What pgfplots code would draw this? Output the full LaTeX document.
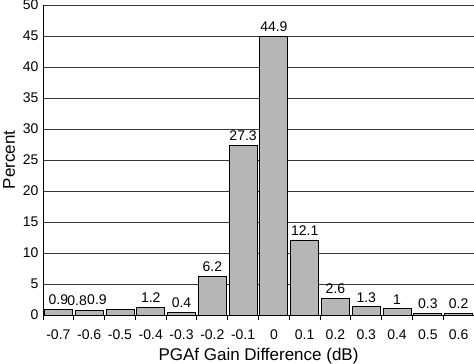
\documentclass[border=0pt]{standalone}
\usepackage{fontspec}
\setmainfont{Liberation Sans}
\usepackage{pgfplots}
\usepackage{pgfplotstable}
\pgfplotsset{compat=1.18}
\definecolor{barfill}{RGB}{182,182,182}
\definecolor{gridc}{RGB}{55,55,55}
\newcommand{\fs}{\fontsize{14bp}{17bp}\selectfont}
\newcommand{\fl}{\fontsize{17bp}{20bp}\selectfont}
\newcommand{\fn}{\fontsize{14bp}{16bp}\selectfont}
\pgfplotstableread{
x  y     dx
0  0.9   0
1  0.8   -12
2  0.9   -23
3  1.2   0
4  0.4   0
5  6.2   0
6  27.3  0
7  44.9  0
8  12.1  0
9  2.6   0
10 1.3   0
11 1     0
12 0.3   0
13 0.2   0
}\datatable
\begin{document}%
\begin{tikzpicture}
\useasboundingbox (-43bp,-49bp) rectangle (431bp,315bp);
\begin{axis}[
  at={(0,0)}, anchor=south west,
  scale only axis,
  width=431bp, height=310bp,
  xmin=-0.5, xmax=13.5, ymin=0, ymax=50,
  axis x line*=bottom, axis y line*=left,
  axis line style={black, line width=0.9pt},
  ytick={0,5,...,50},
  ymajorgrids, grid style={gridc, line width=0.9pt},
  major tick length=0pt,
  xtick={0,...,13},
  xticklabels={-0.7,-0.6,-0.5,-0.4,-0.3,-0.2,-0.1,0,0.1,0.2,0.3,0.4,0.5,0.6},
  minor xtick={-0.5,0.5,...,13.5},
  minor tick length=5bp,
  minor tick style={black, line width=0.9pt},
  tick align=outside,
  /pgf/number format/assume math mode=true,
  ticklabel style={font=\fs},
  xticklabel style={anchor=base, yshift=-24bp},
  yticklabel style={xshift=-1bp},
  xlabel={PGAf Gain Difference (dB)},
  ylabel={Percent},
  xlabel style={font=\fl, at={(axis description cs:0.5,0)}, anchor=center, yshift=-41bp},
  ylabel style={font=\fl, at={(axis description cs:0,0.5)}, anchor=center, yshift=34bp},
  ybar, bar width=28bp,
  bar shift=0pt,
  clip=false,
]
\addplot[fill=barfill, draw=black, line width=0.9pt,
  nodes near coords,
  visualization depends on={\thisrow{dx} \as \dx},
  every node near coord/.append style={font=\fn, yshift=1bp, xshift=\dx bp},
] table[x=x, y=y] {\datatable};
\end{axis}
\end{tikzpicture}%
\end{document}
